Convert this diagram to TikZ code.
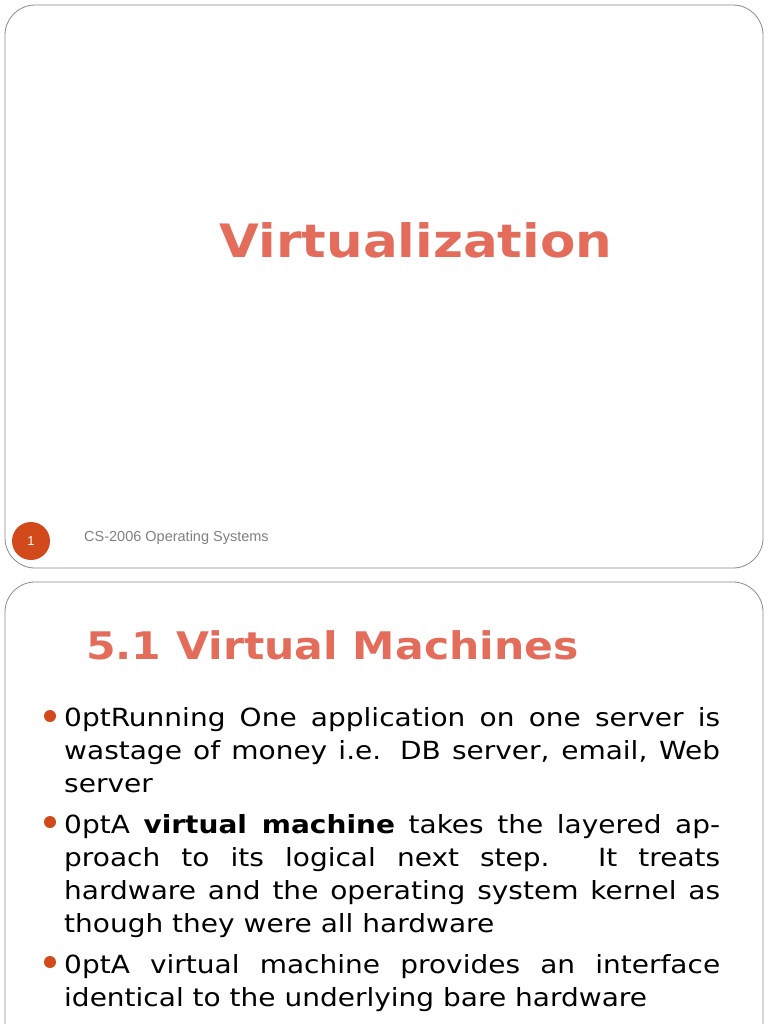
\documentclass[tikz,border=0pt]{standalone}
\usepackage{fontspec}
\setmainfont{DejaVu Sans}[FakeStretch=1.12]
\newfontfamily\footfont{Liberation Sans}
\definecolor{ttl}{HTML}{E46C5A}
\definecolor{dot}{HTML}{D24A1C}
\definecolor{frm}{HTML}{8A8A8A}
\begin{document}
\begin{tikzpicture}[x=1pt,y=-1pt,
  slide/.style={draw=frm,line width=0.8pt,rounded corners=30pt,fill=white},
  para/.style={anchor=north west,inner sep=0pt,text width=656pt,align=justify,font=\fontsize{25}{33}\selectfont\hyphenpenalty=10000\exhyphenpenalty=10000},
  bul/.style={circle,fill=dot,inner sep=0pt,minimum size=12pt}]
\useasboundingbox (0,0) rectangle (768,1024);
\fill[white] (0,0) rectangle (768,1024);
\draw[slide] (5,5) rectangle (763,568);
\draw[slide] (5,582) rectangle (763,1060);
\node[text=ttl,font=\fontsize{46}{54}\selectfont\bfseries] (t1) at (416,240) {Virtualization};
\node[circle,fill=dot,minimum size=38pt,inner sep=0pt,text=white,font=\footfont\fontsize{13}{15}\selectfont] (n1) at (31,541) {1};
\node[anchor=west,text=gray,font=\footfont\fontsize{14.5}{17}\selectfont,inner sep=0pt] (f1) at (84,538) {CS-2006 Operating Systems};
\node[anchor=west,text=ttl,font=\fontsize{38}{46}\selectfont\bfseries,inner sep=0pt] (t2) at (86,645) {5.1 Virtual Machines};
\node[para] (p1) at (64,707) {Running One application on one server is wastage of money i.e. DB server, email, Web server};
\node[para] (p2) at (64,814) {A \textbf{virtual machine} takes the layered approach to its logical next step. It treats hardware and the operating system kernel as though they were all hardware};
\node[para] (p3) at (64,954) {A virtual machine provides an interface identical to the underlying bare hardware};
\node[bul] (b1) at (50,716) {};
\node[bul] (b2) at (50,822) {};
\node[bul] (b3) at (50,962) {};
\end{tikzpicture}
\end{document}
